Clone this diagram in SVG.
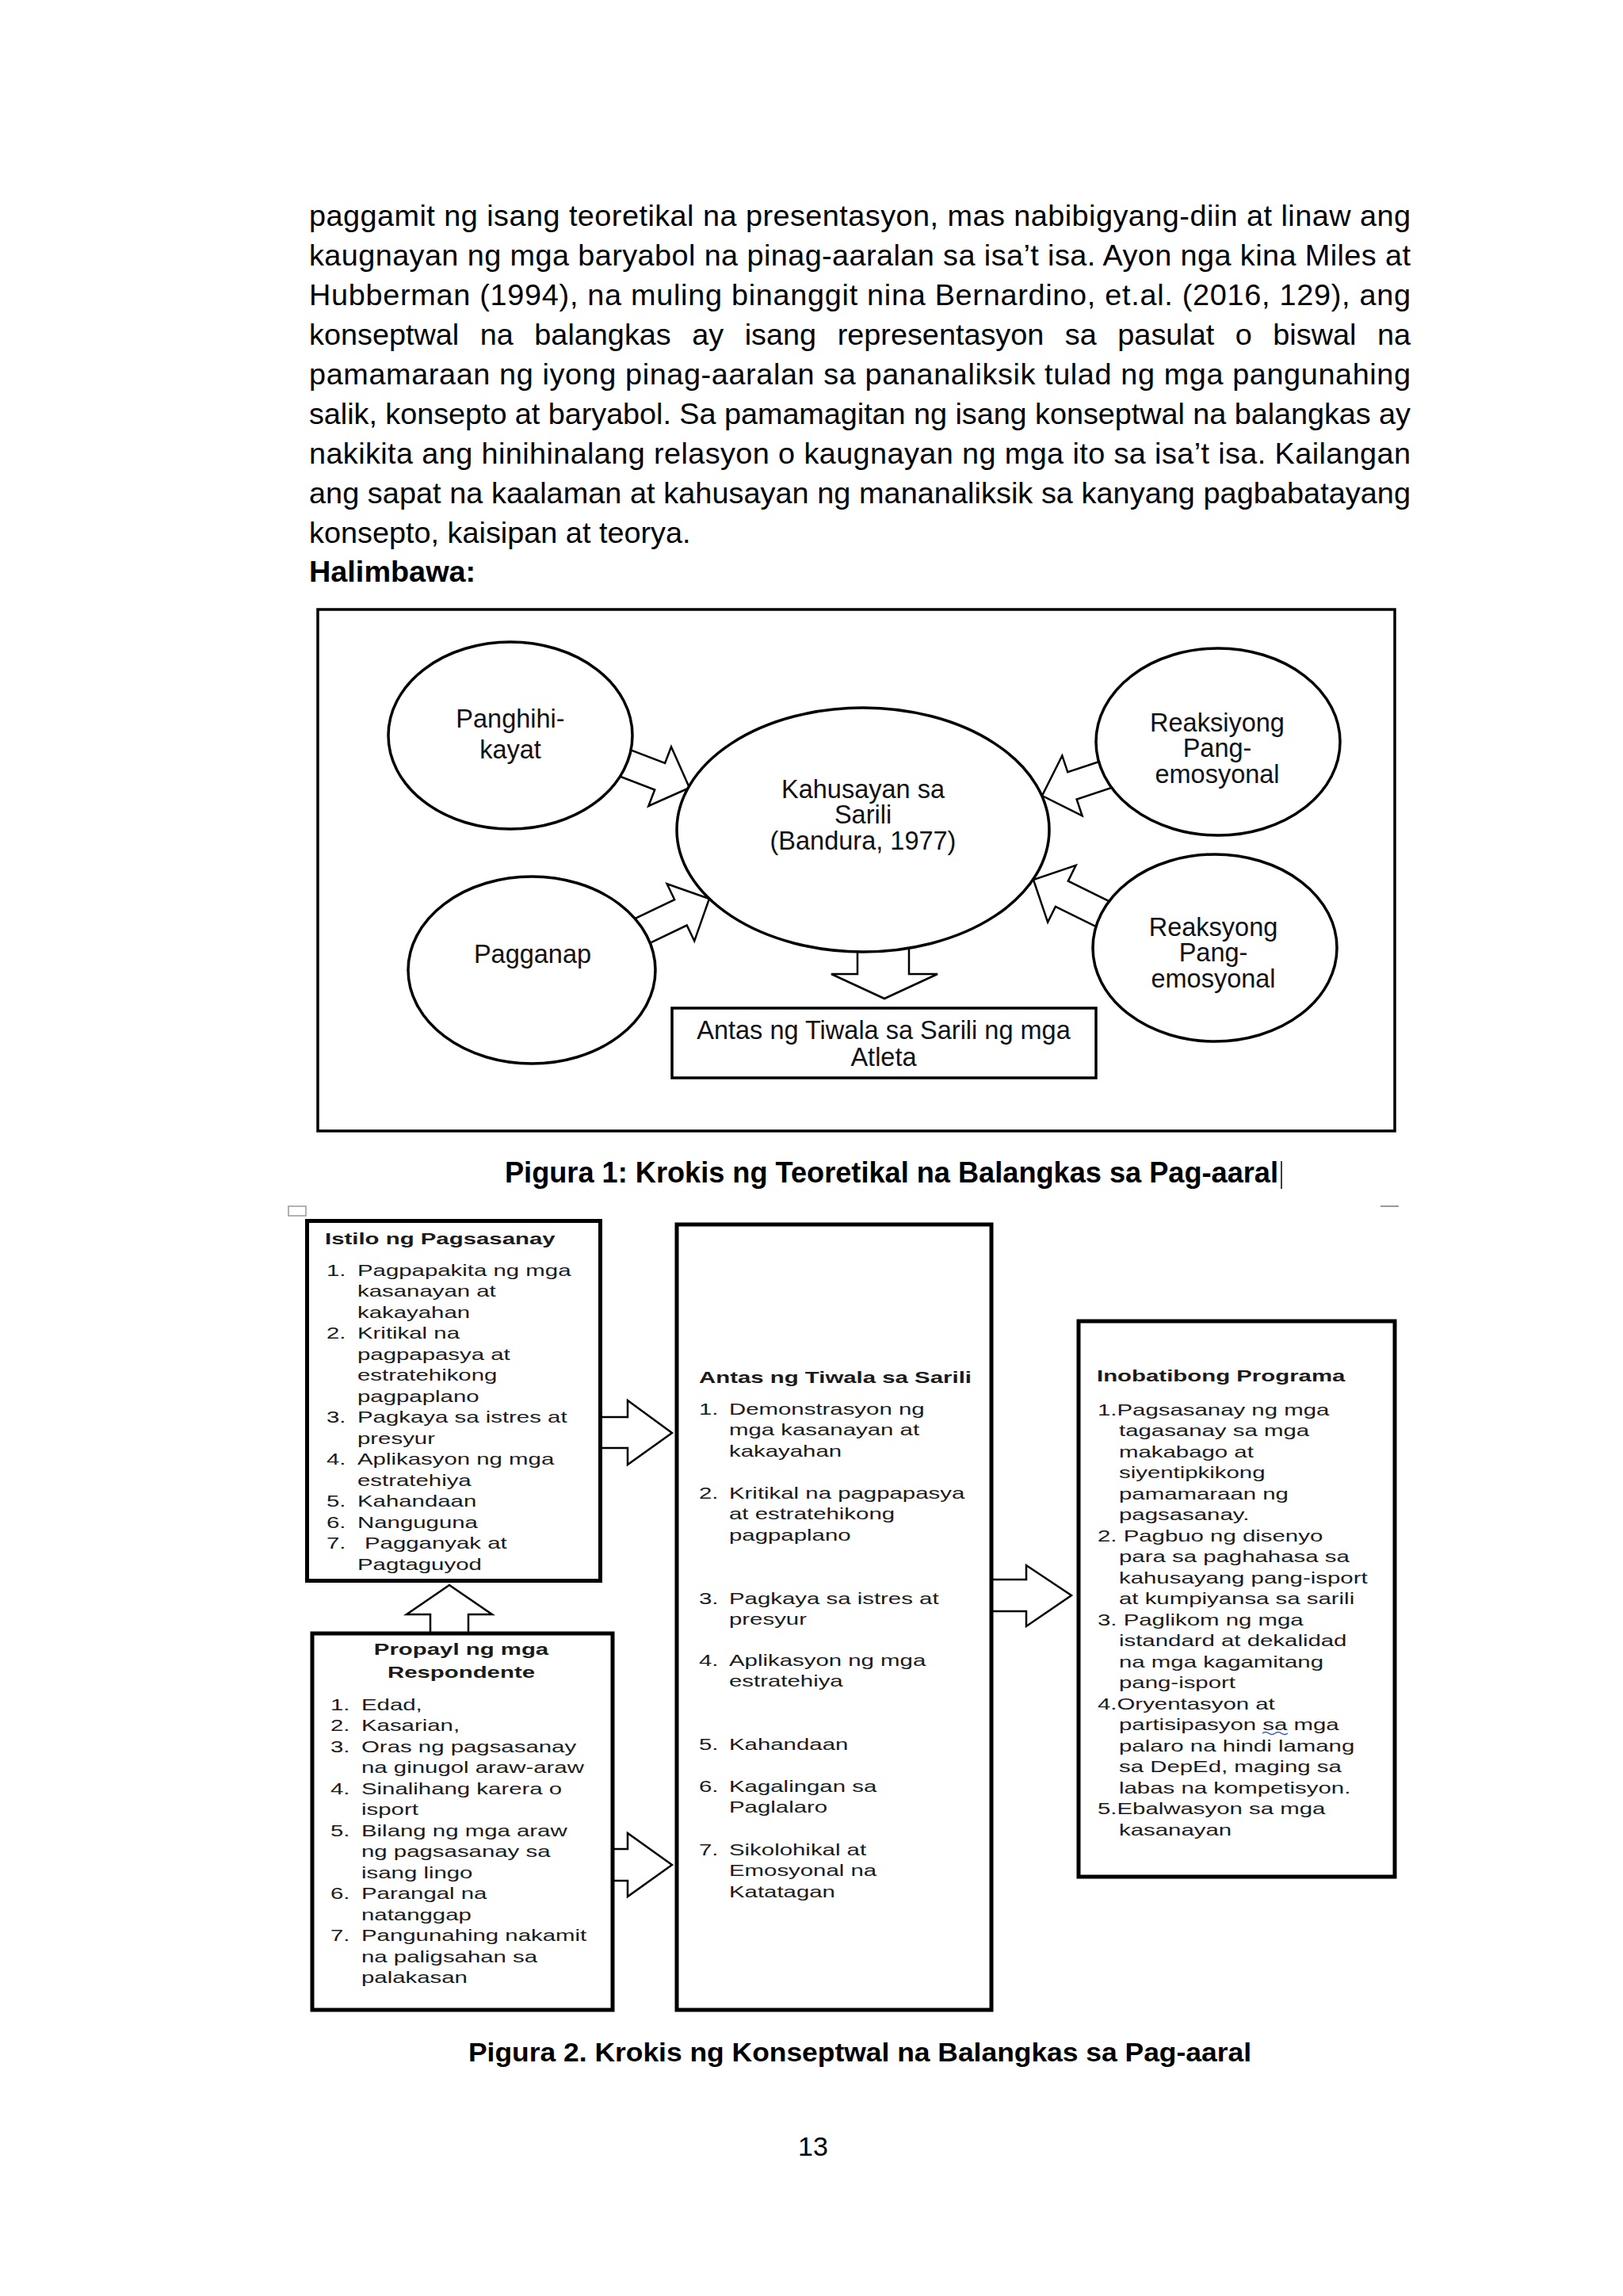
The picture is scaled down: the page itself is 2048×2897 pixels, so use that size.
<svg xmlns="http://www.w3.org/2000/svg" width="2048" height="2897" viewBox="0 0 2048 2897">
<style>
.body{font-family:"Liberation Sans",Arial,sans-serif;font-size:37.85px;fill:#000}
.bold{font-weight:bold}
.f1{font-family:"Liberation Sans",Arial,sans-serif;font-size:32.5px;fill:#111;text-anchor:middle}
.f2{font-family:"Liberation Sans",Arial,sans-serif;font-size:19.6px;fill:#1a1a1a}
.shape{fill:#fff;stroke:#000;stroke-width:3.5}
.arr{fill:#fff;stroke:#000;stroke-width:2.5;stroke-linejoin:miter}
.box{fill:#fff;stroke:#000;stroke-width:5}
</style>
<defs>
<polygon id="blk" points="0,0 -40,-40 -40,-18 -110,-18 -110,18 -40,18 -40,40"/>
</defs>
<rect width="2048" height="2897" fill="#fff"/>

<g id="paragraph" class="body">
<text x="390" y="285" textLength="1390" lengthAdjust="spacing">paggamit ng isang teoretikal na presentasyon, mas nabibigyang-diin at linaw ang</text>
<text x="390" y="335" textLength="1390" lengthAdjust="spacing">kaugnayan ng mga baryabol na pinag-aaralan sa isa’t isa. Ayon nga kina Miles at</text>
<text x="390" y="385" textLength="1390" lengthAdjust="spacing">Hubberman (1994), na muling binanggit nina Bernardino, et.al. (2016, 129), ang</text>
<text x="390" y="435" word-spacing="16" textLength="1390" lengthAdjust="spacing">konseptwal na balangkas ay isang representasyon sa pasulat o biswal na</text>
<text x="390" y="485" textLength="1390" lengthAdjust="spacing">pamamaraan ng iyong pinag-aaralan sa pananaliksik tulad ng mga pangunahing</text>
<text x="390" y="535" textLength="1390" lengthAdjust="spacing">salik, konsepto at baryabol. Sa pamamagitan ng isang konseptwal na balangkas ay</text>
<text x="390" y="585" textLength="1390" lengthAdjust="spacing">nakikita ang hinihinalang relasyon o kaugnayan ng mga ito sa isa’t isa. Kailangan</text>
<text x="390" y="635" textLength="1390" lengthAdjust="spacing">ang sapat na kaalaman at kahusayan ng mananaliksik sa kanyang pagbabatayang</text>
<text x="390" y="685">konsepto, kaisipan at teorya.</text>
<text x="390" y="734" class="bold">Halimbawa:</text>
</g>

<!-- Figure 1 -->
<rect id="fig1-frame" x="401" y="769" width="1359" height="658" fill="none" stroke="#000" stroke-width="3.5"/>

<g id="connectors">
<use href="#blk" class="arr" transform="translate(870,994) rotate(21)"/>
<use href="#blk" class="arr" transform="translate(895,1134) rotate(-25.6)"/>
<use href="#blk" class="arr" transform="translate(1315,1004) rotate(161.6)"/>
<use href="#blk" class="arr" transform="translate(1304,1110) rotate(206.3)"/>
<path class="arr" d="M1082,1190 L1082,1229 L1049,1229 L1116,1260 L1183,1229 L1147,1229 L1147,1190"/>
<path class="arr" d="M760,1788 L792,1788 L792,1767 L848,1808 L792,1848 L792,1827 L760,1827"/>
<path class="arr" d="M775,2333 L792,2333 L792,2313 L848,2353 L792,2393 L792,2373 L775,2373"/>
<path class="arr" d="M1253,1993 L1295,1993 L1295,1975 L1352,2013 L1295,2052 L1295,2033 L1253,2033"/>
<path class="arr" d="M543,2061 L543,2037 L513,2037 L567,2000 L621,2037 L591,2037 L591,2061"/>
</g>

<g id="node-panghihikayat">
<ellipse class="shape" cx="644" cy="928" rx="154" ry="118"/>
<text class="f1" x="644" y="918">Panghihi-</text>
<text class="f1" x="644" y="957">kayat</text>
</g>
<g id="node-pagganap">
<ellipse class="shape" cx="671" cy="1224" rx="156" ry="118"/>
<text class="f1" x="672" y="1215">Pagganap</text>
</g>
<g id="node-reaksiyong">
<ellipse class="shape" cx="1537" cy="936" rx="154" ry="118"/>
<text class="f1" x="1536" y="923">Reaksiyong</text>
<text class="f1" x="1536" y="955">Pang-</text>
<text class="f1" x="1536" y="988">emosyonal</text>
</g>
<g id="node-reaksyong">
<ellipse class="shape" cx="1533" cy="1196" rx="154" ry="118"/>
<text class="f1" x="1531" y="1181">Reaksyong</text>
<text class="f1" x="1531" y="1213">Pang-</text>
<text class="f1" x="1531" y="1246">emosyonal</text>
</g>
<g id="node-kahusayan">
<ellipse class="shape" cx="1089" cy="1047" rx="235" ry="154"/>
<text class="f1" x="1089" y="1007">Kahusayan sa</text>
<text class="f1" x="1089" y="1039">Sarili</text>
<text class="f1" x="1089" y="1072">(Bandura, 1977)</text>
</g>
<g id="node-antas-atleta">
<rect class="shape" x="848" y="1272" width="535" height="88"/>
<text class="f1" x="1115" y="1311">Antas ng Tiwala sa Sarili ng mga</text>
<text class="f1" x="1115" y="1345">Atleta</text>
</g>

<g id="caption1">
<text class="body bold" x="637" y="1492" textLength="976" lengthAdjust="spacingAndGlyphs" style="font-size:36px">Pigura 1: Krokis ng Teoretikal na Balangkas sa Pag-aaral</text>
<line x1="1617" y1="1465" x2="1617" y2="1500" stroke="#000" stroke-width="1.5"/>
</g>

<!-- Figure 2 artifacts -->
<rect x="364" y="1522" width="22" height="12" fill="none" stroke="#999" stroke-width="1.5"/>
<line x1="1742" y1="1522" x2="1765" y2="1522" stroke="#999" stroke-width="2"/>

<g id="node-istilo">
<rect class="box" x="387.5" y="1540.5" width="370" height="454"/>
<g class="f2" transform="scale(1.5,1)">
<text x="273.33" y="1570" class="bold">Istilo ng Pagsasanay</text>
<text x="274.67" y="1610">1.</text><text x="300.67" y="1610">Pagpapakita ng mga</text>
<text x="300.67" y="1636.5">kasanayan at</text>
<text x="300.67" y="1663">kakayahan</text>
<text x="274.67" y="1689.5">2.</text><text x="300.67" y="1689.5">Kritikal na</text>
<text x="300.67" y="1716">pagpapasya at</text>
<text x="300.67" y="1742.5">estratehikong</text>
<text x="300.67" y="1769">pagpaplano</text>
<text x="274.67" y="1795.5">3.</text><text x="300.67" y="1795.5">Pagkaya sa istres at</text>
<text x="300.67" y="1822">presyur</text>
<text x="274.67" y="1848.5">4.</text><text x="300.67" y="1848.5">Aplikasyon ng mga</text>
<text x="300.67" y="1875">estratehiya</text>
<text x="274.67" y="1901.5">5.</text><text x="300.67" y="1901.5">Kahandaan</text>
<text x="274.67" y="1928">6.</text><text x="300.67" y="1928">Nanguguna</text>
<text x="274.67" y="1954.5">7.</text><text x="306.67" y="1954.5">Pagganyak at</text>
<text x="300.67" y="1981">Pagtaguyod</text>
</g>
</g>

<g id="node-propayl">
<rect class="box" x="394" y="2061" width="379" height="475"/>
<g class="f2" transform="scale(1.5,1)">
<text x="388" y="2088" class="bold" text-anchor="middle">Propayl ng mga</text>
<text x="388" y="2117" class="bold" text-anchor="middle">Respondente</text>
<text x="278" y="2158">1.</text><text x="304" y="2158">Edad,</text>
<text x="278" y="2184.5">2.</text><text x="304" y="2184.5">Kasarian,</text>
<text x="278" y="2211">3.</text><text x="304" y="2211">Oras ng pagsasanay</text>
<text x="304" y="2237.5">na ginugol araw-araw</text>
<text x="278" y="2264">4.</text><text x="304" y="2264">Sinalihang karera o</text>
<text x="304" y="2290.5">isport</text>
<text x="278" y="2317">5.</text><text x="304" y="2317">Bilang ng mga araw</text>
<text x="304" y="2343.5">ng pagsasanay sa</text>
<text x="304" y="2370">isang lingo</text>
<text x="278" y="2396.5">6.</text><text x="304" y="2396.5">Parangal na</text>
<text x="304" y="2423">natanggap</text>
<text x="278" y="2449.5">7.</text><text x="304" y="2449.5">Pangunahing nakamit</text>
<text x="304" y="2476">na paligsahan sa</text>
<text x="304" y="2502.5">palakasan</text>
</g>
</g>

<g id="node-antas">
<rect class="box" x="854" y="1545" width="397" height="991"/>
<g class="f2" transform="scale(1.5,1)">
<text x="588" y="1745" class="bold">Antas ng Tiwala sa Sarili</text>
<text x="588" y="1785">1.</text><text x="613.33" y="1785">Demonstrasyon ng</text>
<text x="613.33" y="1811.5">mga kasanayan at</text>
<text x="613.33" y="1838">kakayahan</text>
<text x="588" y="1891">2.</text><text x="613.33" y="1891">Kritikal na pagpapasya</text>
<text x="613.33" y="1917.5">at estratehikong</text>
<text x="613.33" y="1944">pagpaplano</text>
<text x="588" y="2024">3.</text><text x="613.33" y="2024">Pagkaya sa istres at</text>
<text x="613.33" y="2050.5">presyur</text>
<text x="588" y="2102">4.</text><text x="613.33" y="2102">Aplikasyon ng mga</text>
<text x="613.33" y="2128.5">estratehiya</text>
<text x="588" y="2208">5.</text><text x="613.33" y="2208">Kahandaan</text>
<text x="588" y="2261">6.</text><text x="613.33" y="2261">Kagalingan sa</text>
<text x="613.33" y="2287.5">Paglalaro</text>
<text x="588" y="2341">7.</text><text x="613.33" y="2341">Sikolohikal at</text>
<text x="613.33" y="2367.5">Emosyonal na</text>
<text x="613.33" y="2394">Katatagan</text>
</g>
</g>

<g id="node-inobatibo">
<rect class="box" x="1361" y="1667" width="399" height="701"/>
<g class="f2" transform="scale(1.5,1)">
<text x="922.67" y="1743" class="bold">Inobatibong Programa</text>
<text x="923.33" y="1786">1.Pagsasanay ng mga</text>
<text x="941.33" y="1812.5">tagasanay sa mga</text>
<text x="941.33" y="1839">makabago at</text>
<text x="941.33" y="1865.5">siyentipkikong</text>
<text x="941.33" y="1892">pamamaraan ng</text>
<text x="941.33" y="1918.5">pagsasanay.</text>
<text x="923.33" y="1945">2. Pagbuo ng disenyo</text>
<text x="941.33" y="1971.5">para sa paghahasa sa</text>
<text x="941.33" y="1998">kahusayang pang-isport</text>
<text x="941.33" y="2024.5">at kumpiyansa sa sarili</text>
<text x="923.33" y="2051">3. Paglikom ng mga</text>
<text x="941.33" y="2077.5">istandard at dekalidad</text>
<text x="941.33" y="2104">na mga kagamitang</text>
<text x="941.33" y="2130.5">pang-isport</text>
<text x="923.33" y="2157">4.Oryentasyon at</text>
<text x="941.33" y="2183.5">partisipasyon sa mga</text>
<text x="941.33" y="2210">palaro na hindi lamang</text>
<text x="941.33" y="2236.5">sa DepEd, maging sa</text>
<text x="941.33" y="2263">labas na kompetisyon.</text>
<text x="923.33" y="2289.5">5.Ebalwasyon sa mga</text>
<text x="941.33" y="2316">kasanayan</text>
</g>
<path d="M1593,2187 q4,-3 8,0 t8,0 t8,0 t8,0" fill="none" stroke="#3050d0" stroke-width="1.5"/>
</g>

<g id="caption2">
<text class="body bold" x="591" y="2601" textLength="988" lengthAdjust="spacingAndGlyphs" style="font-size:34px">Pigura 2. Krokis ng Konseptwal na Balangkas sa Pag-aaral</text>
</g>

<text class="body" x="1026" y="2720" text-anchor="middle" style="font-size:34px">13</text>
</svg>
